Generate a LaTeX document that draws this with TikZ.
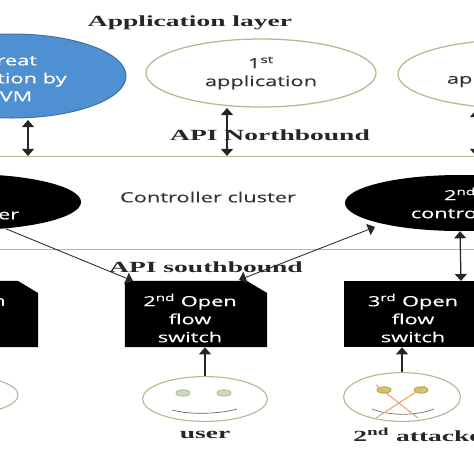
\documentclass[tikz,border=0pt]{standalone}
\usepackage{fontspec}
\usetikzlibrary{arrows.meta}
\usetikzlibrary{shapes.geometric}
\newfontfamily\boxfont[FakeStretch=1.55, FakeBold=0.3]{Open Sans}
\newfontfamily\headfont[FakeStretch=1.78]{Liberation Serif}
\definecolor{appgreen}{HTML}{A9BF8F}
\definecolor{appblue}{HTML}{4F90D2}
\definecolor{appedge}{HTML}{41719C}
\definecolor{crossorange}{HTML}{EDA77C}
\tikzset{
	layerline/.style={appgreen, line width=0.6pt},
	layerhead/.style={font=\headfont\bfseries\fontsize{11}{13}\selectfont, text=black!85, inner sep=0pt},
	boxtext/.style={font=\boxfont\fontsize{10}{12.8}\selectfont, align=center, inner sep=0pt},
	appnode/.style={boxtext, ellipse, draw=appgreen, line width=0.9pt, fill=white, text=black!80, minimum width=5.75cm, minimum height=1.7cm},
	threatnode/.style={ellipse, draw=appedge, line width=0.7pt, fill=appblue, minimum width=5.7cm, minimum height=2.1cm},
	ctrlnode/.style={boxtext, ellipse, fill=black, text=white, minimum width=5.75cm, minimum height=1.4cm},
	switchnode/.style={fill=black, minimum width=3.55cm, minimum height=1.65cm, inner sep=0pt},
	snipnode/.style={minimum width=3.55cm, minimum height=1.65cm, inner sep=0pt, path picture={
		\fill[black] (path picture bounding box.north west)
		-- ([xshift=-0.5cm]path picture bounding box.north east)
		-- ([yshift=-0.3cm]path picture bounding box.north east)
		-- (path picture bounding box.south east)
		-- (path picture bounding box.south west) -- cycle;
	}},
	facenode/.style={ellipse, draw=appgreen, line width=0.8pt, inner sep=0pt},
	eyenode/.style={ellipse, draw=appgreen, fill=appgreen!60, line width=0.6pt, minimum width=0.35cm, minimum height=0.16cm, inner sep=0pt},
	oneway/.style={-{Triangle[length=5pt, width=8.5pt]}, line width=0.9pt, black!85},
	twoway/.style={{Triangle[length=5pt, width=8.5pt]}-{Triangle[length=5pt, width=8.5pt]}, line width=0.9pt, black!85},
	thinway/.style={twoway, line width=0.6pt}
}

\begin{document}
\begin{tikzpicture}[x=0.025cm, y=-0.025cm]
	\useasboundingbox (0, 0) rectangle (474, 474);
	\clip (0, 0) rectangle (474, 474);

	\coordinate (northa) at (0, 156);
	\coordinate (northb) at (474, 156);
	\coordinate (southa) at (0, 249);
	\coordinate (southb) at (474, 249);
	\draw[layerline] (northa) -- (northb);
	\draw[layerline] (southa) -- (southb);

	\node[layerhead] (applayer) at (190, 23) {Application layer};
	\node[layerhead] (apinorth) at (270, 135) {API Northbound};
	\node[layerhead] (apisouth) at (206, 267) {API southbound};
	\node[boxtext, text=black!80] (cluster) at (208, 197) {Controller cluster};

	\node[threatnode] (threat) at (12, 76) {};
	\node[boxtext, text=white] (threattext) at (4, 78) {Threat\\detection by\\\hspace*{0.6cm}VM};
	\node[appnode] (appone) at (261, 73) {1\textsuperscript{st}\\application};
	\node[appnode] (apptwo) at (513, 74) {};
	\node[boxtext, text=black!80] (apptwotext) at (503, 80) {application};

	\node[ctrlnode] (ctrlone) at (-34, 202) {};
	\node[boxtext, text=white] (ctrlonetext) at (-30, 214) {controller};
	\node[ctrlnode] (ctrltwo) at (460, 203) {2\textsuperscript{nd}\\controller};

	\node[snipnode] (swone) at (-33, 314) {};
	\node[snipnode] (swtwo) at (196, 314) {};
	\node[switchnode] (swthree) at (415, 314) {};
	\node[boxtext, text=white] (swonetext) at (-38, 318) {1\textsuperscript{st} Open\\flow\\switch};
	\node[boxtext, text=white] (swtwotext) at (190, 318) {2\textsuperscript{nd} Open\\flow\\switch};
	\node[boxtext, text=white] (swthreetext) at (413, 318) {3\textsuperscript{rd} Open\\flow\\switch};

	\node[facenode, minimum width=3cm, minimum height=0.98cm] (attackone) at (-42, 395) {};
	\node[facenode, minimum width=3.12cm, minimum height=1.12cm] (user) at (205, 399) {};
	\node[facenode, minimum width=2.92cm, minimum height=1.22cm] (attacktwo) at (402, 397) {};

	\node[eyenode] (usereyea) at (183, 393) {};
	\node[eyenode] (usereyeb) at (224, 393) {};
	\coordinate (usermoutha) at (172, 410);
	\coordinate (usermouthb) at (237, 409);
	\draw[black!60, line width=0.5pt] (usermoutha) .. controls (190, 415) and (220, 414) .. (usermouthb);

	\coordinate (mouthleft) at (372, 409);
	\coordinate (mouthright) at (434, 409);
	\draw[black!55, line width=0.5pt] (mouthleft) .. controls (390, 416) and (416, 416) .. (mouthright);
	\coordinate (crossa) at (376, 385);
	\coordinate (crossb) at (418, 418);
	\coordinate (crossc) at (425, 386);
	\coordinate (crossd) at (376, 418);
	\node[eyenode, draw=olive!70, fill=olive!45] (atteyea) at (384, 390) {};
	\node[eyenode, draw=olive!70, fill=olive!45] (atteyeb) at (421, 390) {};
	\draw[crossorange, line width=0.8pt] (crossa) -- (crossb);
	\draw[crossorange, line width=0.8pt] (crossc) -- (crossd);

	\node[layerhead] (userlabel) at (205, 435) {user};
	\node[layerhead, anchor=west] (attacklabel) at (353, 435) {2\textsuperscript{nd} attacker};

	\coordinate (threatend) at (28, 120);
	\coordinate (threatline) at (28, 156);
	\coordinate (oneend) at (227, 108);
	\coordinate (oneline) at (227, 156);
	\coordinate (twoend) at (476, 110);
	\coordinate (twoline) at (476, 156);
	\draw[twoway] (threatend) -- (threatline);
	\draw[twoway] (oneend) -- (oneline);
	\draw[twoway] (twoend) -- (twoline);

	\coordinate (swtwoleft) at (133, 281);
	\coordinate (swtworight) at (239, 280);
	\coordinate (ctrltwoend) at (375, 227);
	\coordinate (swthreetop) at (461, 281);
	\draw[oneway, line width=0.6pt] (ctrlone.-34) -- (swtwoleft);
	\draw[thinway] (swtworight) -- (ctrltwoend);
	\draw[twoway] (ctrltwo.south) -- (swthreetop);

	\draw[oneway] (user.north) -- (user.north |- swtwo.south);
	\draw[oneway] (attacktwo.north) -- (attacktwo.north |- swthree.south);
\end{tikzpicture}
\end{document}
